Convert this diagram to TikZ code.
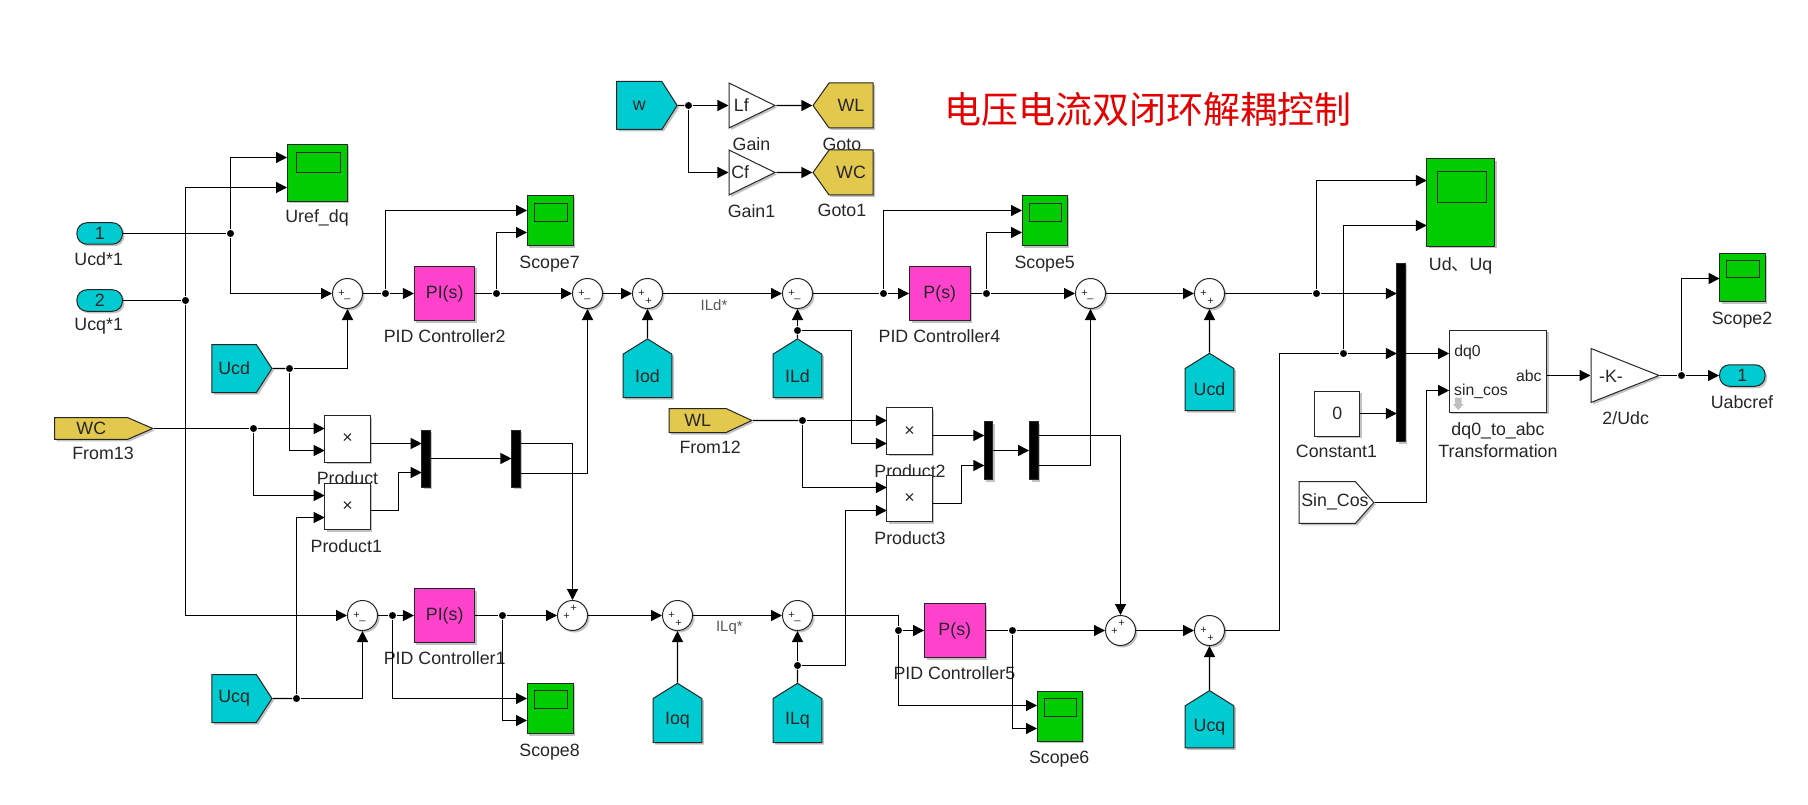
\documentclass[tikz,border=0pt]{standalone}
\usepackage{fontspec}
\setmainfont{Liberation Sans}
\newfontfamily\cjk{Noto Sans CJK SC}
\usetikzlibrary{arrows.meta, calc, shadows, shapes.geometric, shapes.symbols}
\definecolor{tagcyan}{HTML}{00CBD0}
\definecolor{taggold}{HTML}{E3C84E}
\definecolor{scopegreen}{HTML}{00CC00}
\definecolor{pidpink}{HTML}{FF42CC}

\begin{document}
\begin{tikzpicture}[x=1pt, y=-1pt, line width=1.2pt, >={Triangle[length=11pt,width=11pt]},
  every node/.style={font=\fontsize{17.8}{20}\selectfont, inner sep=0pt, text=black!85},
  blk/.style={draw=black!85, line width=1pt, drop shadow={shadow xshift=2pt, shadow yshift=-2pt, fill=black!40, opacity=.6}},
  box/.style 2 args={blk, rectangle, minimum width=#1pt, minimum height=#2pt},
  scopeblk/.style 2 args={box={#1}{#2}, fill=scopegreen, path picture={
    \draw[line width=.9pt] let \p1=(path picture bounding box.south west), \p2=(path picture bounding box.north east) in
      ({\x1+.16*(\x2-\x1)},{\y2-.14*(\y2-\y1)}) rectangle ({\x1+.88*(\x2-\x1)},{\y2-.5*(\y2-\y1)});}},
  pid/.style={box={60.5}{54}, fill=pidpink},
  prod/.style={box={45.5}{46.5}, fill=white},
  mux/.style={box={8.5}{#1}, fill=black},
  tag/.style n args={4}{blk, signal, signal to=#1, signal from=nowhere, signal pointer angle=#2, minimum width=#3pt, minimum height=#4pt},
  inport/.style={box={45.5}{21.5}, rounded corners=10pt, fill=tagcyan},
  gainblk/.style 2 args={blk, isosceles triangle, isosceles triangle stretches, minimum width=#1pt, minimum height=#2pt, fill=white, anchor=apex},
  jn/.style={circle, fill=black, minimum size=7pt},
  sumpm/.style={blk, circle, fill=white, minimum size=30pt, label={[font=\fontsize{11}{12}\selectfont, xshift=-6pt]center:+}, label={[font=\fontsize{11}{12}\selectfont, yshift=-5pt]center:\_}},
  sumpl/.style={blk, circle, fill=white, minimum size=30pt, label={[font=\fontsize{11}{12}\selectfont, xshift=-6pt]center:+}, label={[font=\fontsize{11}{12}\selectfont, xshift=1pt, yshift=-8pt]center:+}},
  sumpu/.style={blk, circle, fill=white, minimum size=30pt, label={[font=\fontsize{11}{12}\selectfont, xshift=-6pt, yshift=-1pt]center:+}, label={[font=\fontsize{11}{12}\selectfont, xshift=1pt, yshift=7pt]center:+}},
  port/.style={font=\fontsize{15.8}{18}\selectfont},
  sig/.style={font=\fontsize{15}{18}\selectfont, text=black!65}]
\useasboundingbox (0,0) rectangle (1808,805);
\pgfmathsetmacro{\rowA}{293.5}
\pgfmathsetmacro{\rowB}{615.5}
\pgfmathsetmacro{\rowC}{630.5}

% Draw the captions
\node (tUcdIn) at (98.7,258.7) {Ucd*1};
\node (tUcqIn) at (98.7,326.7) {Ucq*1};
\node (tUref) at (317,218) {Uref\_dq};
\node (tFromC) at (103,453) {From13};
\node (tPidA) at (444.7,336) {PID Controller2};
\node (tPidB) at (444.7,658) {PID Controller1};
\node (tScope7) at (549.6,264) {Scope7};
\node (tScope8) at (549.6,752) {Scope8};
\node (tProd) at (347.5,478) {Product};
\node (tProdA) at (346.3,546) {Product1};
\node (tGain) at (751.5,144) {Gain};
\node (tGoto) at (841.9,144) {Goto};
\node (tGainA) at (751.5,210.7) {Gain1};
\node (tGotoA) at (841.9,210.7) {Goto1};
\node (tFromL) at (710.2,447.7) {From12};
\node (tProdB) at (910,470.7) {Product2};
\node (tProdC) at (910,538) {Product3};
\node (tPidC) at (939.5,336) {PID Controller4};
\node (tPidD) at (954.4,672.7) {PID Controller5};
\node (tScope5) at (1044.7,264) {Scope5};
\node (tScope6) at (1059.2,759) {Scope6};
\node (tUdq) at (1460.6,266) {Ud{\cjk 、}Uq};
\node (tConst) at (1336.5,451) {Constant1};
\node (tTrans) at (1498,440) [align=center] {dq0\_to\_abc\\[2pt]Transformation};
\node (tKgain) at (1625.7,418) {2/Udc};
\node (tScope2) at (1742,320) {Scope2};
\node (tOut) at (1742,401.7) {Uabcref};
\node (tILd) at (714,305) [sig] {ILd*};
\node (tILq) at (729.4,628) [sig] {ILq*};
\node (title) at (1148,109) [font=\fontsize{37}{40}\selectfont\cjk, text=red!90!black] {电压电流双闭环解耦控制};

% Draw the inports and tags
\node (inA) at (99.7,233.5) [inport] {1};
\node (inB) at (99.7,300.5) [inport] {2};
\node (ucd) at (272.5,368.5) [tag={east}{114}{60}{48}, fill=tagcyan, anchor=east] {Ucd};
\node (ucq) at (272.5,698.5) [tag={east}{114}{60}{48}, fill=tagcyan, anchor=east] {Ucq};
\node (wc) at (154,428.5) [tag={east}{47}{98}{21.6}, fill=taggold, anchor=east] {WC};
\node (wl) at (753,420.5) [tag={east}{50}{82.6}{24}, fill=taggold, anchor=east] {WL};
\node (w) at (677.7,105.5) [tag={east}{115}{60.5}{48}, fill=tagcyan, anchor=east] {w};
\node (gotoL) at (812.4,105.5) [tag={west}{109}{60}{45}, fill=taggold, anchor=west] {WL};
\node (gotoC) at (812.4,172.5) [tag={west}{109}{60}{45}, fill=taggold, anchor=west] {WC};
\node (iod) at (647.5,338.3) [tag={north}{116}{48.6}{51.4}, fill=tagcyan, anchor=north] {Iod};
\node (ild) at (797.5,338.3) [tag={north}{116}{48.6}{51.4}, fill=tagcyan, anchor=north] {ILd};
\node (ioq) at (677.5,682.7) [tag={north}{116}{48.6}{52}, fill=tagcyan, anchor=north] {Ioq};
\node (ilq) at (797.5,682.7) [tag={north}{116}{48.6}{52}, fill=tagcyan, anchor=north] {ILq};
\node (ucdB) at (1209.5,352.7) [tag={north}{116}{48.6}{52}, fill=tagcyan, anchor=north] {Ucd};
\node (ucqB) at (1209.5,690) [tag={north}{116}{48.6}{52}, fill=tagcyan, anchor=north] {Ucq};
\node (sincos) at (1374.5,502.5) [tag={east}{97}{74.8}{41.6}, fill=white, anchor=east] {};
\node (tSincos) at (1335,501.7) {Sin\_Cos};

% Draw the scopes
\node (uref) at (317.2,172.6) [scopeblk={60}{57}] {};
\node (scope7) at (550,221) [scopeblk={46}{50}] {};
\node (scope8) at (550,708.7) [scopeblk={46}{50}] {};
\node (scope5) at (1044.7,221) [scopeblk={45.3}{50}] {};
\node (scope6) at (1059.6,716.3) [scopeblk={45.2}{50}] {};
\node (udq) at (1460.7,202.6) [scopeblk={68}{87.4}] {};
\node (scope2) at (1742.3,277.7) [scopeblk={45.4}{48}] {};

% Draw the controllers and products
\node (pidA) at (444.7,\rowA) [pid] {PI(s)};
\node (pidB) at (444.7,\rowB) [pid] {PI(s)};
\node (pidC) at (939.8,\rowA) [pid] {P(s)};
\node (pidD) at (954.8,\rowC) [pid] {P(s)};
\node (prodA) at (347.5,438.8) [prod] {×};
\node (prodB) at (347.5,506.3) [prod] {×};
\node (prodC) at (909.6,431.2) [prod] {×};
\node (prodD) at (909.6,498.7) [prod] {×};

% Draw the gains
\node (gainL) at (776.3,105.5) [gainblk={45}{46}] {};
\node (gainC) at (776.3,172.5) [gainblk={45}{46}] {};
\node (tLf) at (741.3,105) {Lf};
\node (tCf) at (740.2,172.5) {Cf};
\node (gainK) at (1660.3,375.5) [gainblk={54}{68}] {};
\node (tK) at (1611,376) {-K-};

% Draw the muxes
\node (muxA) at (425.9,458.5) [mux=57] {};
\node (muxB) at (516.2,458.5) [mux=57] {};
\node (muxC) at (988.6,450.5) [mux=58] {};
\node (muxD) at (1033.8,450.5) [mux=58] {};
\node (bus) at (1401,352.5) [mux=178.4] {};

% Draw the transformation and constant
\node (cnst) at (1337.3,413.5) [box={45}{45}, fill=white] {0};
\node (trans) at (1498.1,371.2) [box={97.7}{82.3}, fill=white] {};
\node (tDq) at (1467.5,352.7) [port] {dq0};
\node (tSin) at (1481,391) [port] {sin\_cos};
\node (tAbc) at (1528.8,375.7) [port] {abc};
\fill[black!25] (1455,397.7) -- (1461.5,397.7) -- (1461.5,404) -- (1463.7,404) -- (1458.2,410) -- (1452.8,404) -- (1455,404) -- cycle;
\node (outA) at (1742.3,375.5) [inport] {1};

% Draw the sums
\node (sumA) at (347.5,\rowA) [sumpm] {};
\node (sumB) at (587.5,\rowA) [sumpm] {};
\node (sumC) at (647.5,\rowA) [sumpl] {};
\node (sumD) at (797.5,\rowA) [sumpm] {};
\node (sumE) at (1090.5,\rowA) [sumpm] {};
\node (sumF) at (1209.5,\rowA) [sumpl] {};
\node (sumG) at (362.5,\rowB) [sumpm] {};
\node (sumH) at (572.5,\rowB) [sumpu] {};
\node (sumI) at (677.5,\rowB) [sumpl] {};
\node (sumJ) at (797.5,\rowB) [sumpm] {};
\node (sumK) at (1120.5,\rowC) [sumpu] {};
\node (sumL) at (1209.5,\rowC) [sumpl] {};

% Draw the junctions
\node (jnA) at (230.5,233.5) [jn] {};
\node (jnB) at (185.5,300.5) [jn] {};
\node (jnC) at (385.5,\rowA) [jn] {};
\node (jnD) at (496.5,\rowA) [jn] {};
\node (jnE) at (289.5,368.5) [jn] {};
\node (jnF) at (253.5,428.5) [jn] {};
\node (jnG) at (392.5,\rowB) [jn] {};
\node (jnH) at (502.5,\rowB) [jn] {};
\node (jnI) at (296.5,698.5) [jn] {};
\node (jnJ) at (688.5,105.5) [jn] {};
\node (jnK) at (883.5,\rowA) [jn] {};
\node (jnL) at (986.5,\rowA) [jn] {};
\node (jnM) at (797.5,330.5) [jn] {};
\node (jnN) at (802.5,420.5) [jn] {};
\node (jnO) at (797.5,665.5) [jn] {};
\node (jnP) at (898.5,\rowC) [jn] {};
\node (jnQ) at (1012.5,\rowC) [jn] {};
\node (jnR) at (1316.5,\rowA) [jn] {};
\node (jnS) at (1343.5,353.5) [jn] {};
\node (jnT) at (1681.5,375.5) [jn] {};

% Name the ports
\coordinate (urefIa) at (287,157.5);
\coordinate (urefIb) at (287,187.5);
\coordinate (s7Ia) at (527,210.5);
\coordinate (s7Ib) at (527,232.5);
\coordinate (s8Ia) at (527,698.5);
\coordinate (s8Ib) at (527,720.5);
\coordinate (s5Ia) at (1022,210.5);
\coordinate (s5Ib) at (1022,232.5);
\coordinate (s6Ia) at (1037,705.5);
\coordinate (s6Ib) at (1037,728.5);
\coordinate (udqIa) at (1426.8,180.5);
\coordinate (udqIb) at (1426.8,225.5);
\coordinate (s2Ia) at (1719.6,278.5);
\coordinate (prodAa) at (324.7,428.5);
\coordinate (prodAb) at (324.7,450.5);
\coordinate (prodAo) at (370.3,443.5);
\coordinate (prodBa) at (324.7,495.5);
\coordinate (prodBb) at (324.7,517.5);
\coordinate (prodBo) at (370.3,510.5);
\coordinate (prodCa) at (886.8,420.5);
\coordinate (prodCb) at (886.8,443.5);
\coordinate (prodCo) at (932.4,435.5);
\coordinate (prodDa) at (886.8,487.5);
\coordinate (prodDb) at (886.8,510.5);
\coordinate (prodDo) at (932.4,503.5);
\coordinate (muxAa) at (421.7,443.5);
\coordinate (muxAb) at (421.7,472.5);
\coordinate (muxBa) at (520.5,443.5);
\coordinate (muxBb) at (520.5,473.5);
\coordinate (muxCa) at (984.3,435.5);
\coordinate (muxCb) at (984.3,465.5);
\coordinate (muxDa) at (1038.1,435.5);
\coordinate (muxDb) at (1038.1,465.5);
\coordinate (busIa) at (1396.8,\rowA);
\coordinate (busIb) at (1396.8,353.5);
\coordinate (busIc) at (1396.8,413.5);
\coordinate (busO) at (1405.2,353.5);
\coordinate (transIa) at (1449.2,353.5);
\coordinate (transIb) at (1449.2,390.5);
\coordinate (transO) at (1547,375.5);
\coordinate (bendA) at (398.5,490);
\coordinate (bendB) at (961.5,485);
\coordinate (bendC) at (851.5,400);
\coordinate (bendD) at (845.5,600);
\coordinate (bendE) at (1279.5,500);
\coordinate (bendF) at (1426.5,450);

% Draw the connectors
\draw (inA) -- (jnA);
\draw[->] (jnA) |- (urefIa);
\draw[->] (jnA) |- (sumA);
\draw (inB) -- (jnB);
\draw[->] (jnB) |- (urefIb);
\draw[->] (jnB) |- (sumG);
\draw (sumA) -- (jnC);
\draw[->] (jnC) -- (pidA);
\draw[->] (jnC) |- (s7Ia);
\draw (pidA) -- (jnD);
\draw[->] (jnD) |- (s7Ib);
\draw[->] (jnD) -- (sumB);
\draw[->] (sumB) -- (sumC);
\draw[->] (iod) -- (sumC);
\draw[->] (sumC) -- (sumD);
\draw (ild) -- (jnM);
\draw[->] (jnM) -- (sumD);
\draw (jnM) -| (bendC);
\draw[->] (bendC) |- (prodCb);
\draw (sumD) -- (jnK);
\draw[->] (jnK) -- (pidC);
\draw[->] (jnK) |- (s5Ia);
\draw (pidC) -- (jnL);
\draw[->] (jnL) |- (s5Ib);
\draw[->] (jnL) -- (sumE);
\draw[->] (sumE) -- (sumF);
\draw[->] (ucdB) -- (sumF);
\draw (sumF) -- (jnR);
\draw[->] (jnR) -- (busIa);
\draw[->] (jnR) |- (udqIa);
\draw (ucd) -- (jnE);
\draw[->] (jnE) -| (sumA);
\draw[->] (jnE) |- (prodAb);
\draw (wc) -- (jnF);
\draw[->] (jnF) -- (prodAa);
\draw[->] (jnF) |- (prodBa);
\draw[->] (prodAo) -- (muxAa);
\draw (prodBo) -| (bendA);
\draw[->] (bendA) |- (muxAb);
\draw[->] (muxA) -- (muxB);
\draw[->] (muxBa) -| (sumH);
\draw[->] (muxBb) -| (sumB);
\draw (sumG) -- (jnG);
\draw[->] (jnG) -- (pidB);
\draw[->] (jnG) |- (s8Ia);
\draw (pidB) -- (jnH);
\draw[->] (jnH) |- (s8Ib);
\draw[->] (jnH) -- (sumH);
\draw (ucq) -- (jnI);
\draw[->] (jnI) -| (sumG);
\draw[->] (jnI) |- (prodBb);
\draw[->] (sumH) -- (sumI);
\draw[->] (ioq) -- (sumI);
\draw[->] (sumI) -- (sumJ);
\draw (ilq) -- (jnO);
\draw[->] (jnO) -- (sumJ);
\draw (jnO) -| (bendD);
\draw[->] (bendD) |- (prodDb);
\draw (sumJ) -| (jnP);
\draw[->] (jnP) -- (pidD);
\draw[->] (jnP) |- (s6Ia);
\draw (pidD) -- (jnQ);
\draw[->] (jnQ) |- (s6Ib);
\draw[->] (jnQ) -- (sumK);
\draw[->] (sumK) -- (sumL);
\draw[->] (ucqB) -- (sumL);
\draw (sumL) -| (bendE);
\draw (bendE) |- (jnS);
\draw[->] (jnS) -- (busIb);
\draw[->] (jnS) |- (udqIb);
\draw (w) -- (jnJ);
\draw[->] (jnJ) -- (gainL);
\draw[->] (jnJ) |- (gainC);
\draw[->] (gainL) -- (gotoL);
\draw[->] (gainC) -- (gotoC);
\draw (wl) -- (jnN);
\draw[->] (jnN) -- (prodCa);
\draw[->] (jnN) |- (prodDa);
\draw[->] (prodCo) -- (muxCa);
\draw (prodDo) -| (bendB);
\draw[->] (bendB) |- (muxCb);
\draw[->] (muxC) -- (muxD);
\draw[->] (muxDa) -| (sumK);
\draw[->] (muxDb) -| (sumE);
\draw[->] (cnst) -- (busIc);
\draw[->] (busO) -- (transIa);
\draw (sincos) -| (bendF);
\draw[->] (bendF) |- (transIb);
\draw[->] (transO) -- (gainK);
\draw (gainK) -- (jnT);
\draw[->] (jnT) |- (s2Ia);
\draw[->] (jnT) -- (outA);
\end{tikzpicture}
\end{document}
